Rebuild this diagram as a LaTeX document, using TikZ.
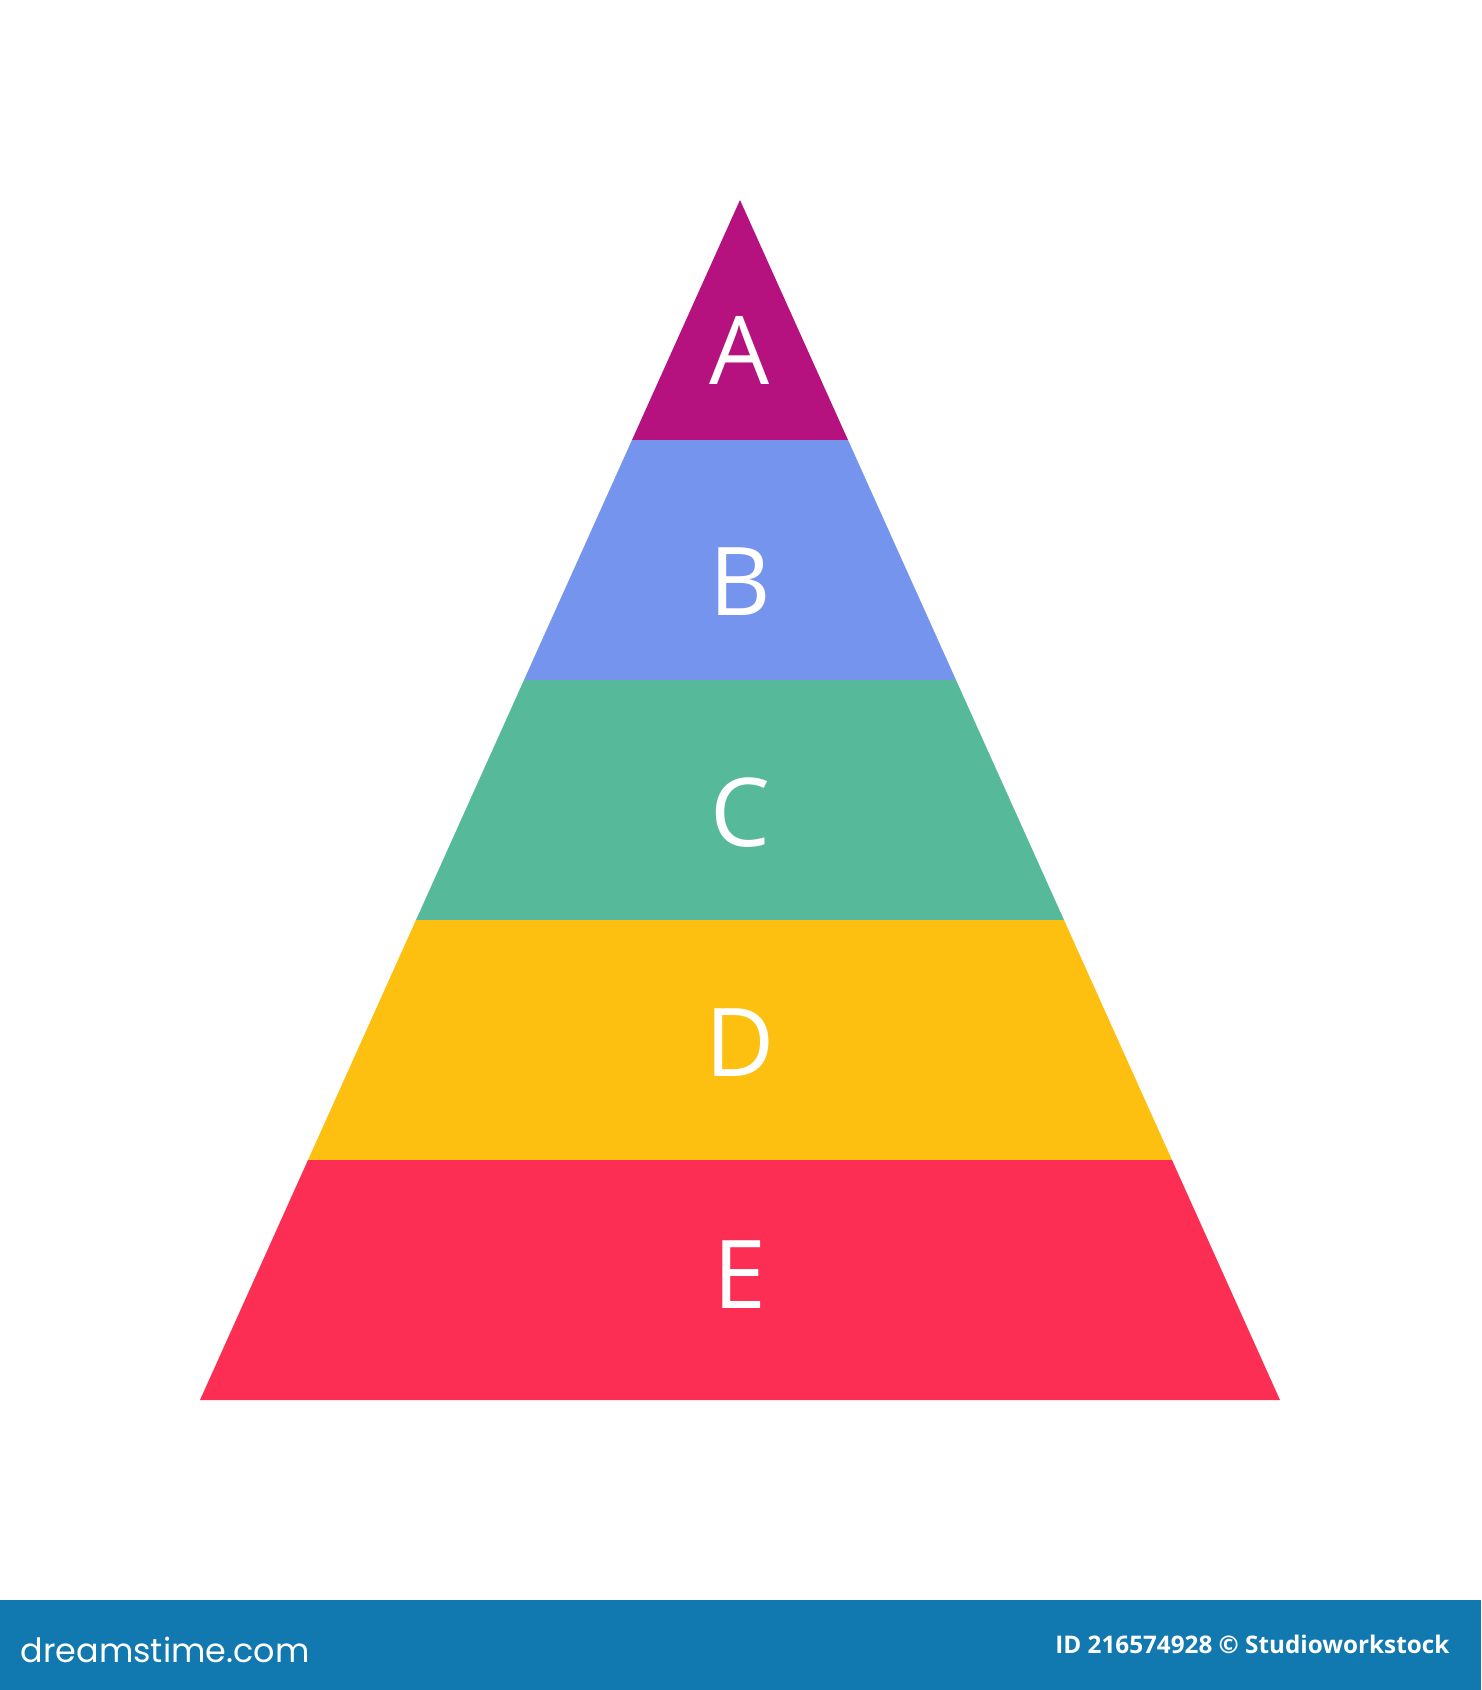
\documentclass[tikz,border=0pt]{standalone}
\usepackage{fontspec}
\setmainfont{Open Sans}
\newfontfamily\logofont{Poppins}
\usetikzlibrary{positioning}
\definecolor{levelA}{HTML}{B5127F}
\definecolor{levelB}{HTML}{7494EE}
\definecolor{levelC}{HTML}{55B99A}
\definecolor{levelD}{HTML}{FDC010}
\definecolor{levelE}{HTML}{FC2E53}
\definecolor{barblue}{HTML}{1178B0}
\begin{document}
\begin{tikzpicture}[x=0.01cm, y=-0.01cm,
    letter/.style={text=white, inner sep=0, font=\fontsize{27}{27}\selectfont},
    bartext/.style={text=white, inner sep=0}]
        \useasboundingbox (0,0) rectangle (1481,1690);
        % pyramid bands, top to bottom
        \fill[levelA] (740,200) -- (848,440) -- (632,440) -- cycle;
        \fill[levelB] (632,440) -- (848,440) -- (956,680) -- (524,680) -- cycle;
        \fill[levelC] (524,680) -- (956,680) -- (1064,920) -- (416,920) -- cycle;
        \fill[levelD] (416,920) -- (1064,920) -- (1172,1160) -- (308,1160) -- cycle;
        \fill[levelE] (308,1160) -- (1172,1160) -- (1280,1400) -- (200,1400) -- cycle;

        \node[letter] (a) at (740,350) {A};
        \node[letter] (b) at (740,582) {B};
        \node[letter] (c) at (740,813) {C};
        \node[letter] (d) at (740,1043) {D};
        \node[letter] (e) at (740,1275) {E};

        % bottom bar
        \fill[barblue] (0,1600) rectangle (1481,1690);
        \node[bartext, anchor=base west, font=\logofont\fontsize{9.5}{9.5}\selectfont] (site) at (20,1662) {dreamstime.com};
        \node[bartext, anchor=base east, font=\bfseries\fontsize{6.9}{6.9}\selectfont] (credit) at (1450,1653) {ID 216574928 © Studioworkstock};
    \end{tikzpicture}
\end{document}
